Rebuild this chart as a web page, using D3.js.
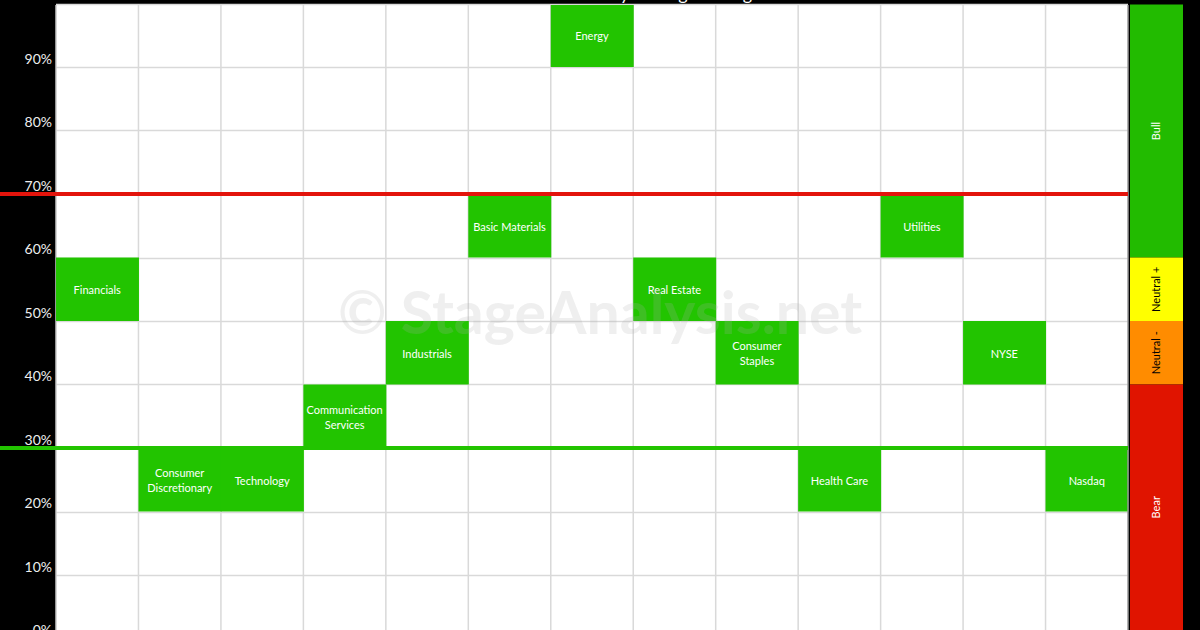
<!DOCTYPE html>
<html>
<head>
<meta charset="utf-8">
<script src="https://cdn.jsdelivr.net/npm/d3@7"></script>
<style>
html,body{margin:0;padding:0;background:#000;}
svg{display:block;}
</style>
</head>
<body>
<svg id="chart" width="1200" height="630"></svg>
<script>
const categories = ["Financials","Consumer Discretionary","Technology","Communication Services","Industrials","Basic Materials","Energy","Real Estate","Consumer Staples","Health Care","Utilities","NYSE","Nasdaq"];
const boxLabels = [["Financials"],["Consumer","Discretionary"],["Technology"],["Communication","Services"],["Industrials"],["Basic Materials"],["Energy"],["Real Estate"],["Consumer","Staples"],["Health Care"],["Utilities"],["NYSE"],["Nasdaq"]];
// lower bound of the 10% band each item sits in
const bandLow = [50,20,20,30,40,60,90,50,40,20,60,40,20];
const yTicks = [0,10,20,30,40,50,60,70,80,90];
const zones = [
  {name:"Bull", from:60, to:100, color:"#22bb00", text:"#ffffff"},
  {name:"Neutral +", from:50, to:60, color:"#ffff00", text:"#000000"},
  {name:"Neutral -", from:40, to:50, color:"#ff8c00", text:"#000000"},
  {name:"Bear", from:0, to:40, color:"#e01400", text:"#ffffff"}
];
const upperLine = 70, lowerLine = 30;
const titleText = "Sector Breadth Weekly Average Rating";
const watermark = "© StageAnalysis.net";

const svg = d3.select("#chart");
const W = 1200, H = 630;
const left = 56, right = 1128;
const x = d3.scaleBand().domain(categories).range([left, right]).padding(0);
const y = d3.scaleLinear().domain([0,100]).range([638.5, 3.5]);

svg.append("rect").attr("width",W).attr("height",H).attr("fill","#000");

// title (cut off at top edge: only descenders show)
svg.append("text").attr("x",600).attr("y",-0.5).attr("text-anchor","middle")
  .attr("font-family","Lato, 'Open Sans', sans-serif").attr("font-size",18)
  .attr("fill","#fff").text(titleText);

// plot background
svg.append("rect").attr("x",left).attr("y",5).attr("width",right-left).attr("height",H-5).attr("fill","#fff");

// gridlines
const grid = svg.append("g");
grid.selectAll("line.h").data(d3.range(0,101,10)).join("line")
  .attr("x1",left).attr("x2",right)
  .attr("y1",d=>Math.round(y(d))+0.5).attr("y2",d=>Math.round(y(d))+0.5)
  .attr("stroke","#d9d9d9").attr("stroke-width",1.5);
grid.selectAll("line.v").data(categories.slice(1)).join("line")
  .attr("x1",d=>x(d)).attr("x2",d=>x(d))
  .attr("y1",5).attr("y2",H)
  .attr("stroke","#d9d9d9").attr("stroke-width",1.5);
svg.append("line").attr("x1",left).attr("x2",left).attr("y1",5).attr("y2",H).attr("stroke","#c8c8c8").attr("stroke-width",1.5);

// boxes
const boxes = svg.append("g");
boxes.selectAll("rect").data(categories).join("rect")
  .attr("x",d=>x(d))
  .attr("y",(d,i)=>Math.max(5,y(bandLow[i]+10)))
  .attr("width",x.bandwidth()+0.5)
  .attr("height",(d,i)=>y(bandLow[i])-Math.max(5,y(bandLow[i]+10)))
  .attr("fill","#22c400");

svg.append("line").attr("x1",right).attr("x2",right).attr("y1",5).attr("y2",H).attr("stroke","#999").attr("stroke-width",1.5);

const labels = svg.append("g").attr("font-family","Lato, 'Open Sans', sans-serif").attr("font-size",11).attr("fill","#fff").attr("text-anchor","middle");
categories.forEach((c,i)=>{
  const cx = x(c)+x.bandwidth()/2;
  const cy = (y(bandLow[i])+y(bandLow[i]+10))/2 + 1;
  const lines = boxLabels[i];
  const lh = 15;
  const t = labels.append("text").attr("x",cx);
  lines.forEach((l,j)=>{
    t.append("tspan").attr("x",cx).attr("y",cy + (j-(lines.length-1)/2)*lh).attr("dy","0.35em").text(l);
  });
});

// threshold lines
svg.append("line").attr("x1",0).attr("x2",right).attr("y1",y(upperLine)).attr("y2",y(upperLine))
  .attr("stroke","#e3140c").attr("stroke-width",4);
svg.append("line").attr("x1",0).attr("x2",right).attr("y1",y(lowerLine)).attr("y2",y(lowerLine))
  .attr("stroke","#22c400").attr("stroke-width",4);

// y axis
const yAxis = d3.axisLeft(y).tickValues(yTicks).tickFormat(d=>d+"%").tickSize(0).tickPadding(0);
const ag = svg.append("g").attr("transform",`translate(52,-8)`).call(yAxis);
ag.select(".domain").remove();
ag.selectAll("text").attr("fill","#eeeeee").attr("font-size",14).attr("font-family","Lato, 'Open Sans', sans-serif");

// right zone strip
const zx = 1130, zw = 53;
const zg = svg.append("g");
zones.forEach(z=>{
  const top = Math.max(y(z.to), 4.5);
  const bot = Math.min(y(z.from), H);
  zg.append("rect").attr("x",zx).attr("y",top).attr("width",zw).attr("height",bot-top).attr("fill",z.color);
  const cy = (top+bot)/2;
  zg.append("text").attr("transform",`translate(${zx+zw/2},${cy}) rotate(-90)`)
    .attr("text-anchor","middle").attr("dy","0.35em")
    .attr("font-family","Lato, 'Open Sans', sans-serif").attr("font-size",11)
    .attr("fill",z.text).text(z.name);
});

// watermark
svg.append("text").attr("x",600).attr("y",313).attr("dy","0.35em").attr("text-anchor","middle")
  .attr("font-family","Lato, 'Open Sans', sans-serif").attr("font-weight","bold").attr("font-size",59)
  .attr("fill","#b0b0b0").attr("fill-opacity",0.2).text(watermark);
</script>
</body>
</html>
